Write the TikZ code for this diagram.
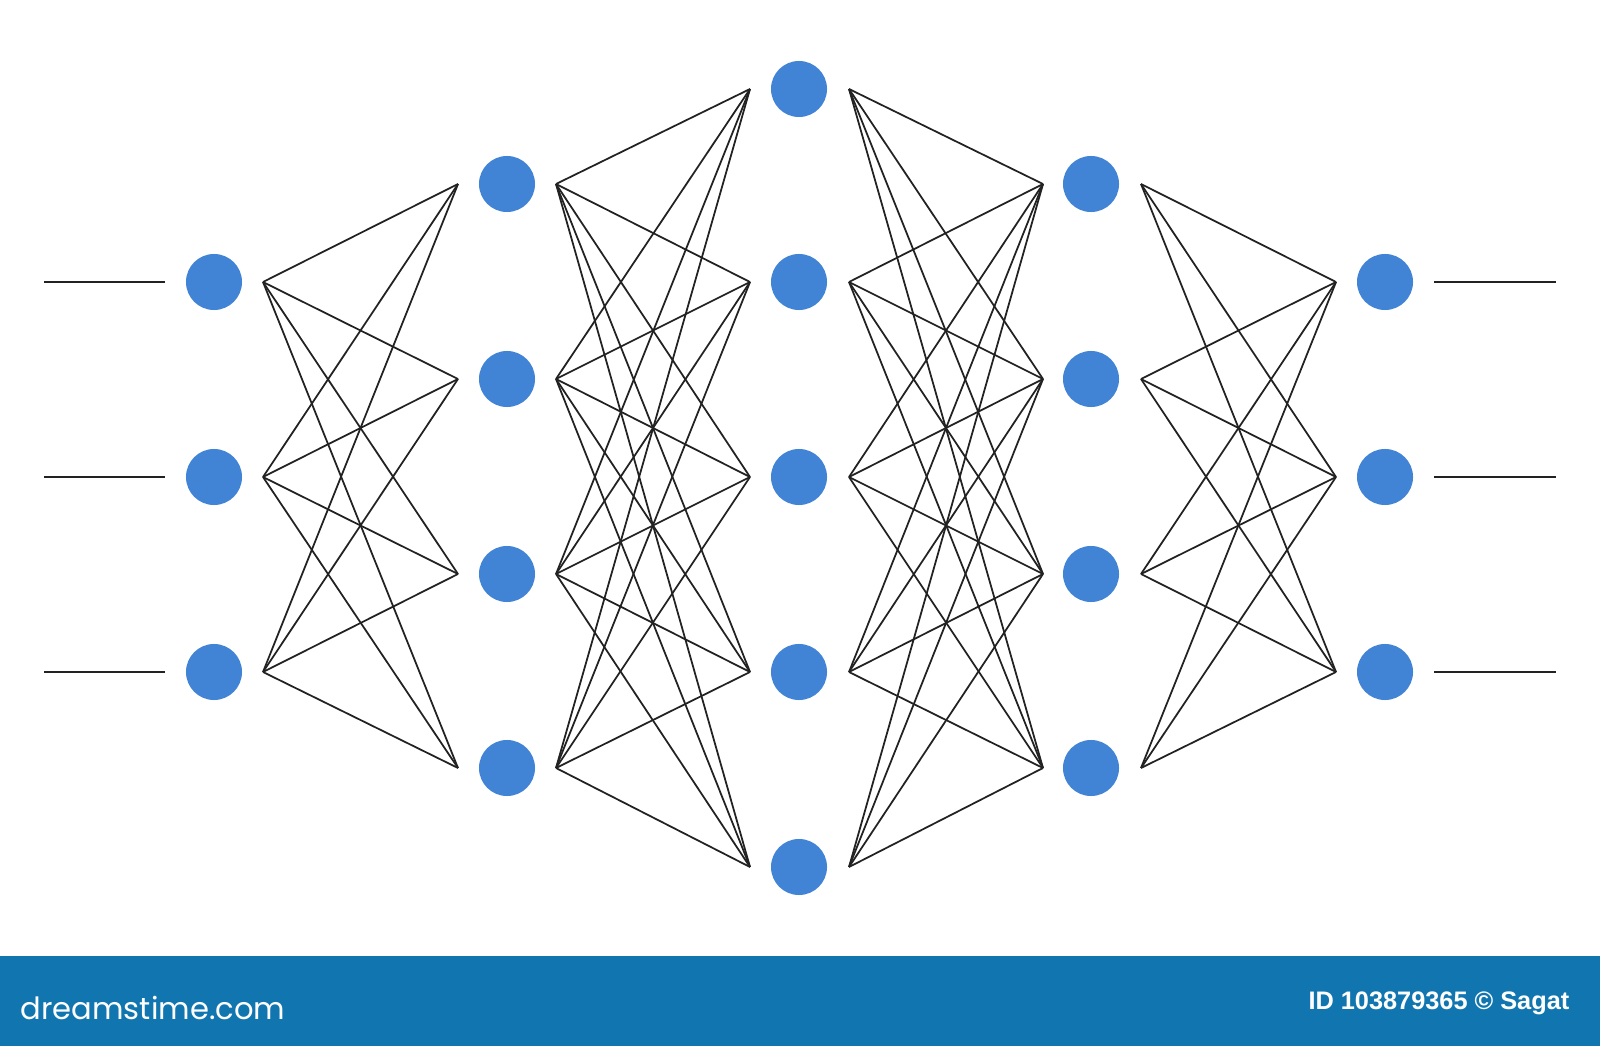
\documentclass[tikz,border=0pt]{standalone}
\usepackage{fontspec}
\setmainfont{Liberation Sans}
\newfontfamily\logofont{Poppins}
\usepackage{tikz}
\definecolor{neuronblue}{RGB}{65,131,213}
\definecolor{bannerblue}{RGB}{17,118,176}
\definecolor{wire}{RGB}{34,34,34}
\tikzset{
  neuron/.style={circle,fill=neuronblue,draw=none,minimum size=0.56cm,inner sep=0pt},
  link/.style={draw=wire,line width=0.5pt},
}

\begin{document}
\begin{tikzpicture}[x=0.01cm,y=-0.01cm]
        \useasboundingbox (0,0) rectangle (1600,1046);
        % 绘制各层神经元
        \foreach \y [count=\i] in {282,477,672}{
            \node[neuron](a\i) at (214,\y){};
            \node[neuron](e\i) at (1385,\y){};
            \coordinate(aR\i) at (263,\y);
            \coordinate(eL\i) at (1336,\y);
        }
        \foreach \y [count=\i] in {184,379,574,768}{
            \node[neuron](b\i) at (507,\y){};
            \node[neuron](d\i) at (1091,\y){};
            \coordinate(bL\i) at (458,\y);
            \coordinate(bR\i) at (556,\y);
            \coordinate(dL\i) at (1043,\y);
            \coordinate(dR\i) at (1141,\y);
        }
        \foreach \y [count=\i] in {89,282,477,672,867}{
            \node[neuron](c\i) at (799,\y){};
            \coordinate(cL\i) at (750,\y);
            \coordinate(cR\i) at (849,\y);
        }
        % 输入与输出线
        \foreach \y [count=\i] in {282,477,672}{
            \coordinate(inA\i) at (44,\y);
            \coordinate(inB\i) at (165,\y);
            \coordinate(outA\i) at (1434,\y);
            \coordinate(outB\i) at (1556,\y);
            \draw[link](inA\i)--(inB\i);
            \draw[link](outA\i)--(outB\i);
        }
        % 绘制层间连线
        \foreach \i in {1,2,3}
            \foreach \j in {1,...,4}{
                \draw[link](aR\i)--(bL\j);
                \draw[link](dR\j)--(eL\i);
            }
        \foreach \i in {1,...,4}
            \foreach \j in {1,...,5}{
                \draw[link](bR\i)--(cL\j);
                \draw[link](cR\j)--(dL\i);
            }
        % 底部横幅
        \fill[bannerblue](0,956) rectangle (1600,1046);
        \node[anchor=base west,text=white,inner sep=0pt,font=\logofont\fontsize{8.7}{10}\selectfont](logo) at (20,1019){dreamstime.com};
        \node[anchor=base east,text=white,inner sep=0pt,font=\bfseries\fontsize{7.2}{8.5}\selectfont](credit) at (1570,1009){ID 103879365 © Sagat};
\end{tikzpicture}
\end{document}
